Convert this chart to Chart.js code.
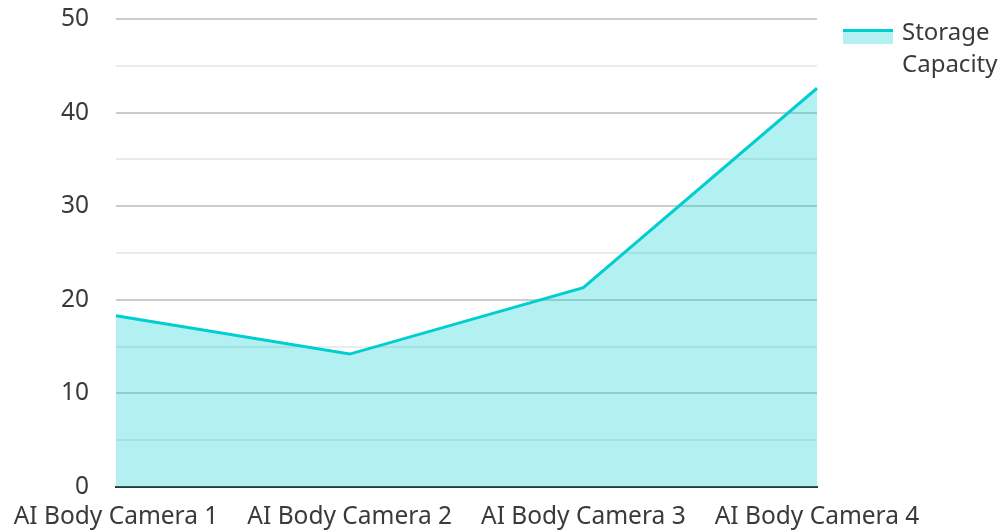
<!DOCTYPE html>
<html>
<head>
<meta charset="utf-8">
<script src="https://cdn.jsdelivr.net/npm/chart.js@4/dist/chart.umd.min.js"></script>
<style>
  html, body { margin: 0; padding: 0; background: #fff; }
  #wrap { width: 1003px; height: 531px; position: relative; }
</style>
</head>
<body>
<div id="wrap"><canvas id="chart"></canvas></div>
<script>
// chart values
const categories = ['AI Body Camera 1', 'AI Body Camera 2', 'AI Body Camera 3', 'AI Body Camera 4'];
const storageCapacity = [18.3, 14.2, 21.3, 42.6];
const seriesName = 'Storage Capacity';
const yMin = 0;
const yMax = 50;

const lineColor = 'rgb(0, 206, 209)';
const fillColor = 'rgba(0, 206, 209, 0.3)';
const textColor = '#3a3a3a';
const fontFamily = '"Noto Sans", "Open Sans", sans-serif';

// legend drawn by hand: thick top stroke over a filled box, label wrapped in two lines
const sideLegend = {
    id: 'sideLegend',
    afterDraw(chart) {
        const { ctx } = chart;
        const ds = chart.data.datasets[0];
        const x = chart.chartArea.right + 26;
        const y = 29;
        ctx.save();
        ctx.fillStyle = ds.backgroundColor;
        ctx.fillRect(x, y, 50, 15);
        ctx.fillStyle = ds.borderColor;
        ctx.fillRect(x, y, 50, 3);
        ctx.fillStyle = textColor;
        ctx.font = '24px ' + fontFamily;
        ctx.textBaseline = 'alphabetic';
        ctx.textAlign = 'left';
        ds.label.split(' ').forEach((word, i) => {
            ctx.fillText(word, x + 59, 40 + i * 32);
        });
        ctx.restore();
    }
};

new Chart(document.getElementById('chart'), {
    type: 'line',
    data: {
        labels: categories,
        datasets: [{
            label: seriesName,
            data: storageCapacity,
            borderColor: lineColor,
            backgroundColor: fillColor,
            borderWidth: 3,
            fill: 'origin',
            tension: 0,
            pointRadius: 0,
            pointHoverRadius: 0
        }]
    },
    options: {
        responsive: true,
        maintainAspectRatio: false,
        animation: false,
        layout: { padding: { top: 19, right: 186, left: 0, bottom: 0 } },
        plugins: {
            legend: { display: false },
            tooltip: { enabled: false }
        },
        scales: {
            x: {
                offset: false,
                grid: {
                    display: true,
                    color: 'rgba(0,0,0,0)',
                    drawTicks: true,
                    tickLength: 12,
                    tickColor: 'rgba(0,0,0,0)'
                },
                border: { display: true, color: '#333', width: 2 },
                ticks: {
                    color: textColor,
                    font: { family: fontFamily, size: 24.5 },
                    padding: 3,
                    maxRotation: 0,
                    autoSkip: false
                },
                afterFit(scale) { scale.height = 44; }
            },
            y: {
                min: yMin,
                max: yMax,
                grid: {
                    drawTicks: true,
                    tickLength: 24,
                    tickColor: 'rgba(0,0,0,0)',
                    color: ctx => (ctx.tick && ctx.tick.value % 10 === 0) ? '#cccccc' : '#ebebeb',
                    lineWidth: 2
                },
                border: { display: false },
                ticks: {
                    stepSize: 5,
                    autoSkip: false,
                    color: textColor,
                    font: { family: fontFamily, size: 24.5 },
                    padding: 3,
                    callback: v => (v % 10 === 0 ? String(v) : '')
                },
                afterFit(scale) { scale.width = 116; }
            }
        }
    },
    plugins: [sideLegend]
});
</script>
</body>
</html>
